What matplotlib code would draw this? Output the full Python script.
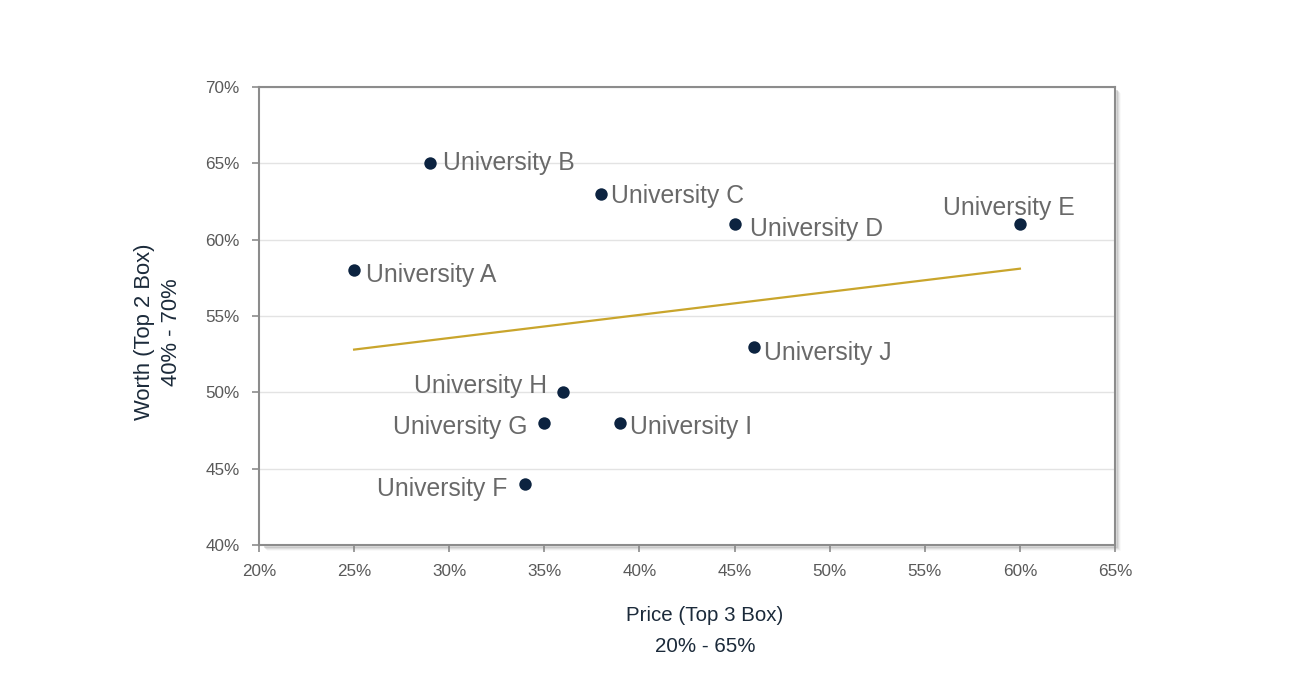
import matplotlib
matplotlib.use('agg')
import matplotlib.pyplot as plt
import matplotlib.transforms as mtransforms
from matplotlib.ticker import FuncFormatter

# data
names = ['University A', 'University B', 'University C', 'University D', 'University E',
         'University F', 'University G', 'University H', 'University I', 'University J']
price = [25, 29, 38, 45, 60, 34, 35, 36, 39, 46]
worth = [58, 65, 63, 61, 61, 44, 48, 50, 48, 53]
trend_x = [25, 60]
trend_y = [52.8, 58.1]

# label offsets in pixels (dx, dy, ha)
offsets = {
    'University A': (12, -5, 'left'),
    'University B': (13, 0, 'left'),
    'University C': (10, -2, 'left'),
    'University D': (15, -5, 'left'),
    'University E': (-11, 16, 'center'),
    'University F': (-18, -5, 'right'),
    'University G': (-17, -4, 'right'),
    'University H': (-16, 6, 'right'),
    'University I': (10, -4, 'left'),
    'University J': (10, -6, 'left'),
}

plt.rcParams['font.family'] = ['Liberation Sans', 'DejaVu Sans']
navy = '#0c2340'
gray_txt = '#696969'

fig = plt.figure(figsize=(12.92, 6.76), dpi=100)
ax = fig.add_axes([259/1292, 1 - 545/676, (1115 - 259)/1292, (545 - 87)/676])

ax.set_xlim(20, 65)
ax.set_ylim(40, 70)
ax.set_xticks(range(20, 66, 5))
ax.set_yticks(range(40, 71, 5))
pct = FuncFormatter(lambda v, p: '%d%%' % v)
ax.xaxis.set_major_formatter(pct)
ax.yaxis.set_major_formatter(pct)
ax.tick_params(axis='both', length=5, width=1.2, color='#8c8c8c', labelcolor='#595959',
               labelsize=12.3)
ax.tick_params(axis='x', pad=9)
ax.tick_params(axis='y', pad=9)

ax.grid(axis='y', color='#e3e3e3', lw=1)
ax.set_axisbelow(True)
for s in ax.spines.values():
    s.set_color('#8c8c8c')
    s.set_linewidth(1.5)

# soft shadow on right and bottom edges of the frame
for i, a in enumerate([0.35, 0.22, 0.12, 0.05]):
    off = mtransforms.ScaledTranslation((i + 2) / 100, -(i + 2) / 100, fig.dpi_scale_trans)
    tr = ax.transAxes + off
    ax.plot([0.005, 1, 1], [0, 0, 0.995], transform=tr, color='#808080', alpha=a,
            lw=1.2, clip_on=False, zorder=1, solid_joinstyle='miter')

ax.plot(trend_x, trend_y, color='#c9a52c', lw=1.6, zorder=2)
ax.scatter(price, worth, s=80, color=navy, zorder=3, linewidths=0)

for n, x, y in zip(names, price, worth):
    dx, dy, ha = offsets[n]
    ax.annotate(n, (x, y), xytext=(dx, dy), textcoords='offset pixels',
                ha=ha, va='center', fontsize=17.8, color=gray_txt, zorder=4)

fig.text(705/1292, 1 - 631/676, 'Price (Top 3 Box)\n20% - 65%', ha='center', va='center',
         fontsize=14.8, color='#1b2a3a', linespacing=1.85)
fig.text(158/1292, 1 - 332/676, 'Worth (Top 2 Box)\n40% - 70%', ha='center', va='center',
         rotation=90, fontsize=15.8, color='#1b2a3a', linespacing=1.4)

fig.savefig('out.png', dpi=100)
